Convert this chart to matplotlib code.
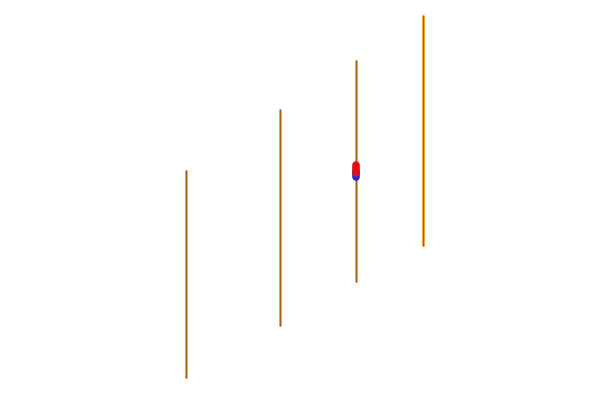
import matplotlib
matplotlib.use("Agg")
import matplotlib.pyplot as plt

x_pos = [186, 280, 356, 423]
low = [27, 79, 123, 159]
high = [235, 296, 345, 390]

# small marker pair on the third line
mark_x = 356
red_span = (232, 240)
blue_span = (228, 234)

fig = plt.figure(figsize=(6.1, 4.05), dpi=100)
ax = fig.add_axes([0, 0, 1, 1])
ax.set_xlim(0, 610)
ax.set_ylim(0, 405)
ax.axis("off")

for x, lo, hi in zip(x_pos, low, high):
    ax.plot([x, x], [lo, hi], color="#eea530", lw=2.0, solid_capstyle="butt")
    ax.plot([x, x], [lo, hi], color="#a8620c", lw=0.8, solid_capstyle="butt")

ax.plot([mark_x, mark_x], blue_span, color="#1030e0", lw=5.5, solid_capstyle="round")
ax.plot([mark_x, mark_x], red_span, color="#e01010", lw=5.5, solid_capstyle="round")

fig.savefig("out.png", dpi=100)
plt.close(fig)
